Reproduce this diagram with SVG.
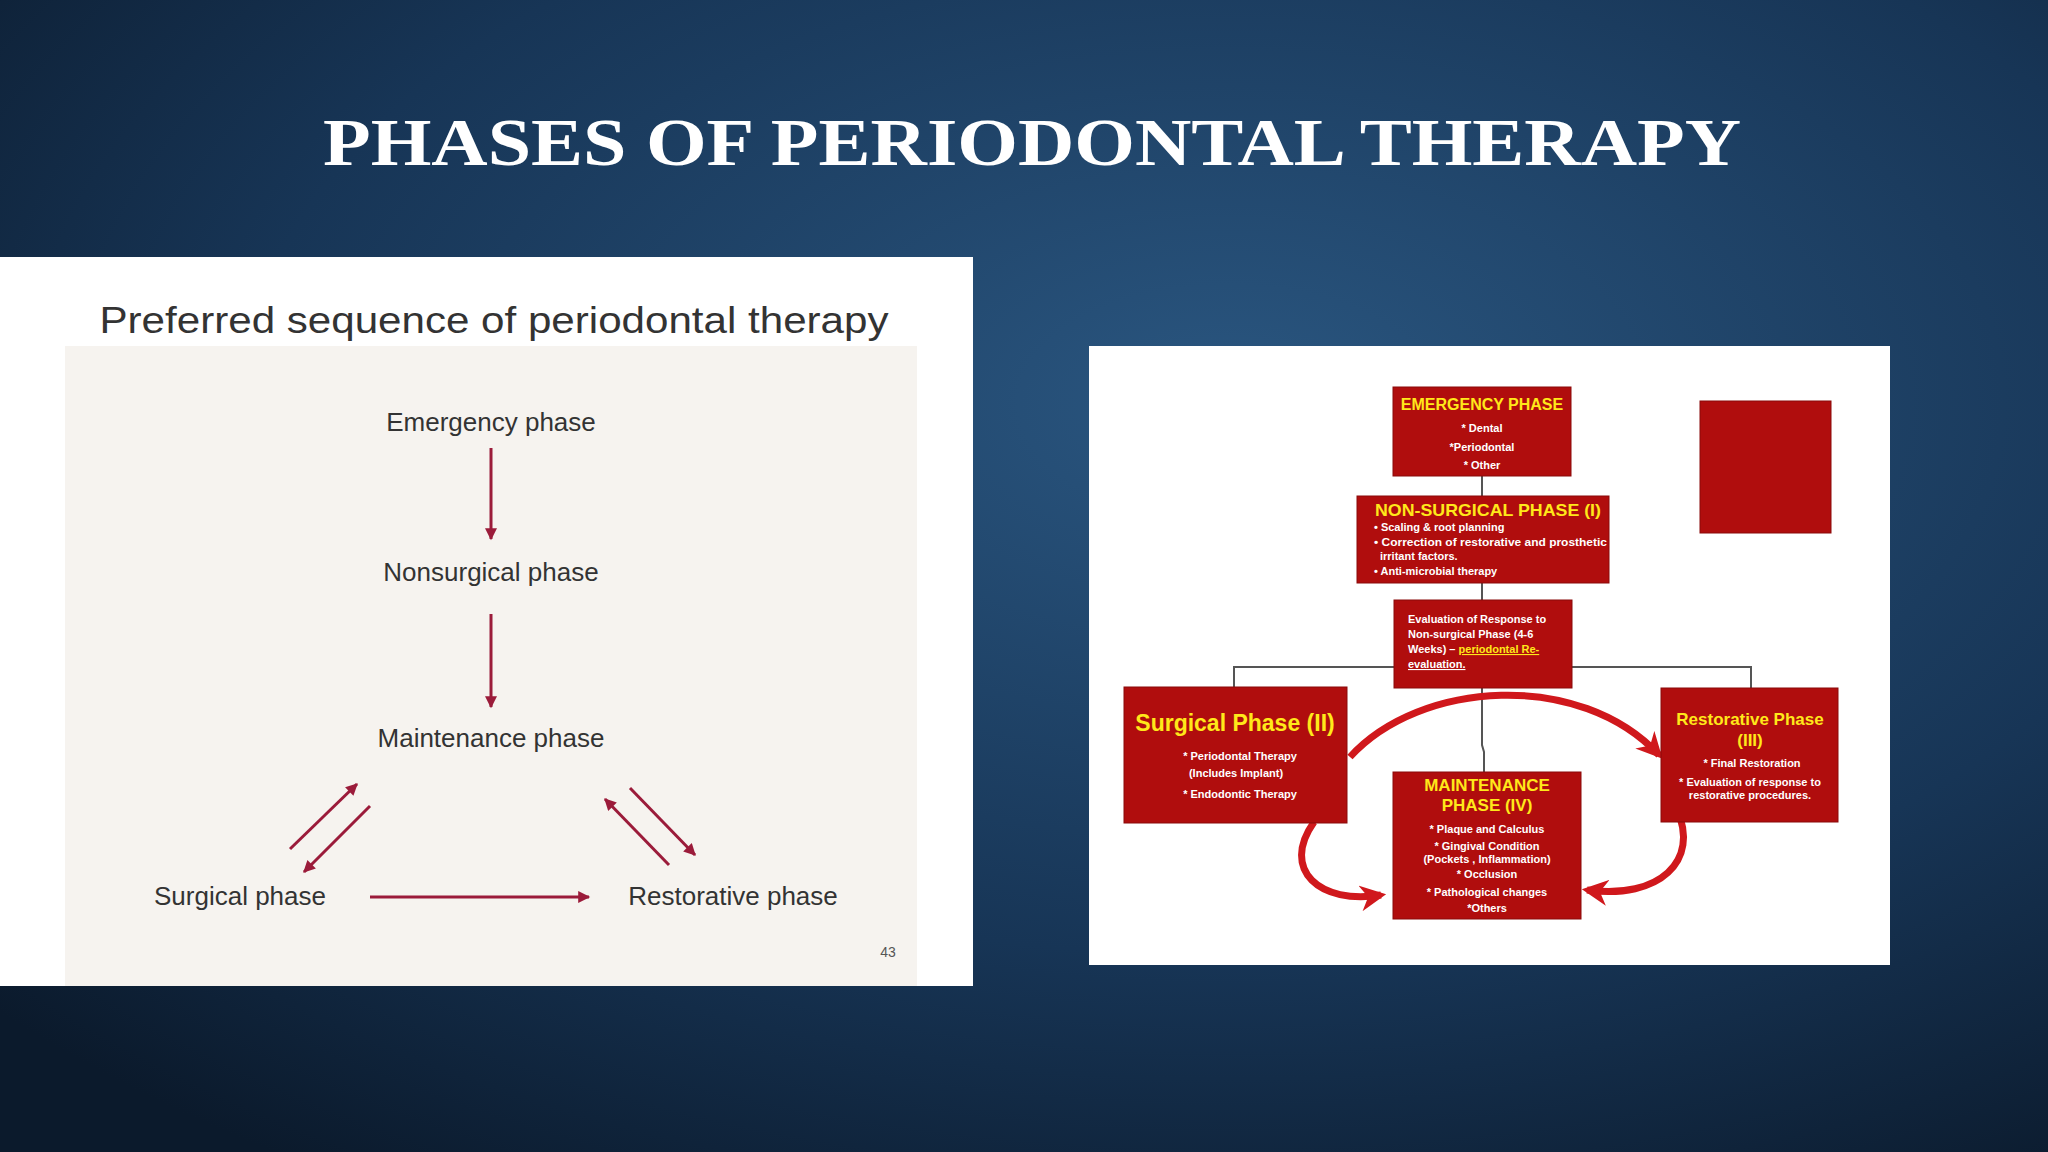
<svg xmlns="http://www.w3.org/2000/svg" width="2048" height="1152" viewBox="0 0 2048 1152">
<defs>
<radialGradient id="bg" cx="0.6" cy="0.35" r="0.8">
<stop offset="0" stop-color="#2a5680"/><stop offset="0.6" stop-color="#173556"/><stop offset="1" stop-color="#0b1a2c"/>
</radialGradient>
<marker id="ah" viewBox="0 0 10 10" refX="9" refY="5" markerWidth="14" markerHeight="12" orient="auto" markerUnits="userSpaceOnUse">
<path d="M0,0 L10,5 L0,10 Z" fill="#9b1b3a"/></marker>
<marker id="rh" viewBox="0 0 10 10" refX="8" refY="5" markerWidth="26" markerHeight="26" orient="auto" markerUnits="userSpaceOnUse">
<path d="M0,0 L10,5 L0,10 L3,5 Z" fill="#d0181c"/></marker>
<style>
.lt{font-family:"Liberation Sans",Arial,sans-serif;font-size:26px;fill:#333;text-anchor:middle}
.la{stroke:#9b1b3a;stroke-width:3;fill:none;marker-end:url(#ah)}
.box{fill:#b00d0d;stroke:#8a0a0a;stroke-width:1}
.h{font-family:"Liberation Sans",Arial,sans-serif;font-weight:bold;fill:#ffe81a;text-anchor:middle}
.w{font-family:"Liberation Sans",Arial,sans-serif;font-weight:bold;fill:#fff;font-size:11px;text-anchor:middle}
.wl{font-family:"Liberation Sans",Arial,sans-serif;font-weight:bold;fill:#fff;font-size:11px}
.cn{stroke:#555;stroke-width:2;fill:none}
.ra{stroke:#d0181c;stroke-width:7;fill:none;marker-end:url(#rh)}
</style>
</defs>
<rect width="2048" height="1152" fill="url(#bg)"/>
<text x="1032" y="165" font-family="Liberation Serif,serif" font-weight="bold" font-size="68" fill="#fff" text-anchor="middle" textLength="1418" lengthAdjust="spacingAndGlyphs">PHASES OF PERIODONTAL THERAPY</text>

<g id="left-panel">
<rect x="0" y="257" width="973" height="729" fill="#fff"/>
<rect x="65" y="346" width="852" height="640" fill="#f6f3ef"/>
<text x="494" y="333" font-family="Liberation Sans,Arial,sans-serif" font-size="37" fill="#333" text-anchor="middle" textLength="789" lengthAdjust="spacingAndGlyphs">Preferred sequence of periodontal therapy</text>
</g>
<g id="emergency"><text class="lt" x="491" y="431">Emergency phase</text></g>
<g id="nonsurgical"><text class="lt" x="491" y="581">Nonsurgical phase</text></g>
<g id="maintenance"><text class="lt" x="491" y="747">Maintenance phase</text></g>
<g id="surgical"><text class="lt" x="240" y="905">Surgical phase</text></g>
<g id="restorative"><text class="lt" x="733" y="905">Restorative phase</text></g>
<text x="888" y="957" font-family="Liberation Sans,Arial,sans-serif" font-size="14" fill="#555" text-anchor="middle">43</text>
<g id="left-connectors">
<path class="la" d="M491,448 L491,539"/>
<path class="la" d="M491,614 L491,707"/>
<path class="la" d="M290,849 L357,784"/>
<path class="la" d="M370,806 L304,872"/>
<path class="la" d="M669,865 L605,799"/>
<path class="la" d="M630,788 L695,855"/>
<path class="la" d="M370,897 L589,897"/>
</g>

<rect x="1089" y="346" width="801" height="619" fill="#fff"/>
<g id="right-connectors">
<path class="cn" d="M1482,476 V496 M1482,583 V600 M1234,687 V667 H1394 M1572,667 H1751 V688 M1482,688 V745 L1484,752 V772"/>
<path class="ra" d="M1350,757 C1420,680 1580,670 1659,755"/>
<path class="ra" d="M1314,822 C1280,870 1320,905 1381,895"/>
<path class="ra" d="M1677,810 C1700,860 1660,900 1587,890"/>
</g>
<g id="r-emergency"><rect class="box" x="1393" y="387" width="178" height="89"/>
<text class="h" x="1482" y="410" font-size="16">EMERGENCY PHASE</text>
<text class="w" x="1482" y="432">* Dental</text><text class="w" x="1482" y="451">*Periodontal</text><text class="w" x="1482" y="469">* Other</text></g>
<g id="r-nonsurgical"><rect class="box" x="1357" y="496" width="252" height="87"/>
<text class="h" x="1488" y="516" font-size="17" textLength="226" lengthAdjust="spacingAndGlyphs">NON-SURGICAL PHASE  (I)</text>
<text class="wl" x="1374" y="531">• Scaling &amp; root planning</text>
<text class="wl" x="1374" y="546" textLength="233" lengthAdjust="spacingAndGlyphs">• Correction of restorative and prosthetic</text>
<text class="wl" x="1380" y="560">irritant factors.</text>
<text class="wl" x="1374" y="575">• Anti-microbial therapy</text></g>
<g id="r-evaluation"><rect class="box" x="1394" y="600" width="178" height="88"/>
<text class="wl" x="1408" y="623">Evaluation of Response to</text>
<text class="wl" x="1408" y="638">Non-surgical Phase (4-6</text>
<text class="wl" x="1408" y="653">Weeks) – <tspan fill="#ffe81a" text-decoration="underline">periodontal Re-</tspan></text>
<text class="wl" x="1408" y="668" fill="#ffe81a" text-decoration="underline">evaluation.</text></g>
<rect class="box" x="1700" y="401" width="131" height="132"/>
<g id="r-surgical"><rect class="box" x="1124" y="687" width="223" height="136"/>
<text class="h" x="1235" y="731" font-size="23">Surgical Phase (II)</text>
<text class="w" x="1240" y="760" font-size="13">* Periodontal Therapy</text>
<text class="w" x="1236" y="777" font-size="13">(Includes Implant)</text>
<text class="w" x="1240" y="798" font-size="13">* Endodontic Therapy</text></g>
<g id="r-restorative"><rect class="box" x="1661" y="688" width="177" height="134"/>
<text class="h" x="1750" y="725" font-size="17">Restorative Phase</text>
<text class="h" x="1750" y="746" font-size="17">(III)</text>
<text class="w" x="1752" y="767">* Final Restoration</text>
<text class="w" x="1750" y="786">* Evaluation of response to</text>
<text class="w" x="1750" y="799">restorative procedures.</text></g>
<g id="r-maintenance"><rect class="box" x="1393" y="772" width="188" height="147"/>
<text class="h" x="1487" y="791" font-size="17">MAINTENANCE</text>
<text class="h" x="1487" y="811" font-size="17">PHASE (IV)</text>
<text class="w" x="1487" y="833">* Plaque and Calculus</text>
<text class="w" x="1487" y="850">* Gingival Condition</text>
<text class="w" x="1487" y="863">(Pockets , Inflammation)</text>
<text class="w" x="1487" y="878">* Occlusion</text>
<text class="w" x="1487" y="896">* Pathological changes</text>
<text class="w" x="1487" y="912">*Others</text></g>
</svg>
